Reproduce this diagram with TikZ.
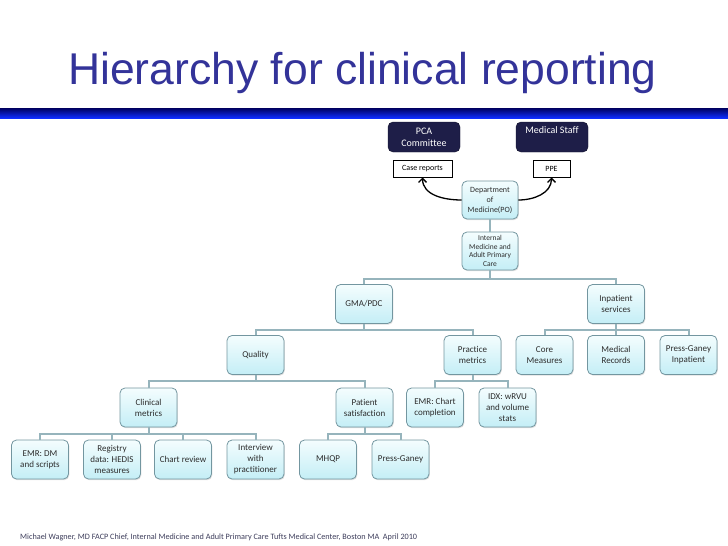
\documentclass[tikz,border=0pt]{standalone}
\usepackage{fontspec}
\setmainfont{Carlito}[Ligatures=NoCommon]
\newfontfamily\titlefont{Liberation Sans}
\usetikzlibrary{arrows.meta}
\usetikzlibrary{shadows}

\definecolor{titleblue}{RGB}{51,51,153}
\definecolor{bandtop}{RGB}{0,0,95}
\definecolor{bandbot}{RGB}{15,45,255}
\definecolor{boxline}{RGB}{115,150,160}
\definecolor{linkline}{RGB}{150,180,188}
\definecolor{boxtop}{RGB}{244,253,254}
\definecolor{boxbot}{RGB}{196,238,246}
\definecolor{navybox}{RGB}{30,30,72}
\definecolor{boxtext}{RGB}{45,45,45}
\definecolor{foottext}{RGB}{60,60,90}

\begin{document}
\begin{tikzpicture}[x=1pt, y=-1pt,
    unit/.style={draw=boxline, line width=0.8pt, rounded corners=5pt, top color=boxtop, bottom color=boxbot,
      minimum width=57pt, minimum height=39pt, inner sep=1pt, align=center, text=boxtext,
      font=\fontsize{9}{11}\selectfont,
      drop shadow={shadow xshift=0.8pt, shadow yshift=-1.2pt, opacity=0.25}},
    board/.style={draw=navybox!60!black, fill=navybox, rounded corners=5pt, minimum width=72pt,
      minimum height=30pt, text=white, align=center, font=\fontsize{10}{12}\selectfont},
    tag/.style={draw=black, line width=1pt, fill=white, minimum height=17pt, inner sep=2pt,
      font=\fontsize{8}{9}\selectfont,
      drop shadow={shadow xshift=1pt, shadow yshift=-1pt, opacity=0.3}},
    link/.style={draw=linkline, line width=2pt},
    flow/.style={draw=black, line width=1.3pt, -{Straight Barb[length=4pt,width=8pt]}}]
    \useasboundingbox (0,0) rectangle (728,546);

    \node[anchor=base west, inner sep=0, text=titleblue, font=\titlefont\fontsize{44.5}{50}\selectfont]
        (title) at (68,84) {Hierarchy for clinical reporting};
    \shade[top color=bandtop, bottom color=bandbot] (0,108) rectangle (728,118);

    \node[board] (pca) at (424,137) {PCA\\Committee};
    \node[board, text depth=13pt] (staff) at (552,137) {Medical Staff};
    \node[tag, minimum width=59pt] (caserep) at (422.5,168.5) {Case reports};
    \node[tag, minimum width=37pt] (ppe) at (551.5,168.5) {PPE};

    \node[unit, minimum width=56pt, minimum height=38pt, font=\fontsize{8}{10}\selectfont]
        (dept) at (490,200) {Department\\of\\Medicine(PO)};
    \node[unit, minimum width=56pt, minimum height=38pt, font=\fontsize{7.5}{8.5}\selectfont]
        (imed) at (490,251) {Internal\\Medicine and\\Adult Primary\\Care};

    \node[unit] (gma) at (364,304) {GMA/PDC};
    \node[unit] (inpat) at (616,304) {Inpatient\\services};

    \node[unit] (quality) at (255.5,355) {Quality};
    \node[unit] (practice) at (472.5,355) {Practice\\metrics};
    \node[unit] (core) at (544.5,355) {Core\\Measures};
    \node[unit] (medrec) at (616,355) {Medical\\Records};
    \node[unit] (pgin) at (688.5,355) {Press-Ganey\\Inpatient};

    \node[unit] (clinical) at (148.5,407.5) {Clinical\\metrics};
    \node[unit] (patient) at (364.5,407.5) {Patient\\satisfaction};
    \node[unit] (emrchart) at (435,407.5) {EMR: Chart\\completion};
    \node[unit] (idx) at (507.5,407.5) {IDX: wRVU\\and volume\\stats};

    \node[unit] (emrdm) at (40,459.5) {EMR: DM\\and scripts};
    \node[unit] (registry) at (112,459.5) {Registry\\data: HEDIS\\measures};
    \node[unit] (chart) at (183,459.5) {Chart review};
    \node[unit] (interview) at (255.5,459.5) {Interview\\with\\practitioner};
    \node[unit] (mhqp) at (328,459.5) {MHQP};
    \node[unit] (pressg) at (400.5,459.5) {Press-Ganey};

    \draw[flow] (dept.west) to[out=180, in=-90] (caserep.south);
    \draw[flow] (dept.east) to[out=0, in=-90] (ppe.south);

    \draw[link] (dept.south) -- (imed.north);
    \draw[link] (imed.south) -- ++(0,9) -| (gma.north);
    \draw[link] (imed.south) -- ++(0,9) -| (inpat.north);
    \draw[link] (gma.south) -- ++(0,6.5) -| (quality.north);
    \draw[link] (gma.south) -- ++(0,6.5) -| (practice.north);
    \draw[link] (inpat.south) -- ++(0,6.5) -| (core.north);
    \draw[link] (inpat.south) -- ++(0,6.5) -| (medrec.north);
    \draw[link] (inpat.south) -- ++(0,6.5) -| (pgin.north);
    \draw[link] (quality.south) -- ++(0,6.5) -| (clinical.north);
    \draw[link] (quality.south) -- ++(0,6.5) -| (patient.north);
    \draw[link] (practice.south) -- ++(0,6.5) -| (emrchart.north);
    \draw[link] (practice.south) -- ++(0,6.5) -| (idx.north);
    \draw[link] (clinical.south) -- ++(0,6.5) -| (emrdm.north);
    \draw[link] (clinical.south) -- ++(0,6.5) -| (registry.north);
    \draw[link] (clinical.south) -- ++(0,6.5) -| (chart.north);
    \draw[link] (clinical.south) -- ++(0,6.5) -| (interview.north);
    \draw[link] (patient.south) -- ++(0,6.5) -| (mhqp.north);
    \draw[link] (patient.south) -- ++(0,6.5) -| (pressg.north);

    \node[anchor=base west, inner sep=0, text=foottext, font=\fontsize{8.2}{10}\selectfont] (foot) at (20,539)
        {Michael Wagner, MD FACP Chief, Internal Medicine and Adult Primary Care Tufts Medical Center, Boston MA\ \ April 2010};
\end{tikzpicture}
\end{document}
